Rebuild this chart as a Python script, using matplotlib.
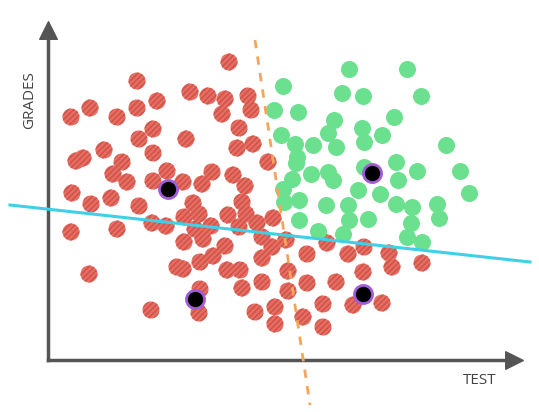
import matplotlib
matplotlib.use("Agg")
import matplotlib.pyplot as plt

red_x = [229,137,190,208,225,248,157,90,71,117,137,222,251,153,239,139,186,237,253,104,153,76,83,122,268,113,167,212,233,127,153,183,202,245,72,91,111,139,193,242,199,184,228,246,273,152,166,211,239,257,195,71,117,262,203,184,225,272,213,262,200,177,183,227,240,89,262,242,200,151,199,255,275,275,
         286,327,364,389,307,348,392,422,288,363,307,336,288,323,353,382,303,323]
red_y = [62,81,92,96,99,96,101,108,117,117,108,114,110,129,128,139,139,148,144,150,153,161,158,162,162,174,171,172,175,182,181,182,184,186,193,204,198,206,203,202,214,217,215,214,218,223,226,226,227,223,229,232,229,237,239,242,246,247,256,258,262,267,269,270,270,274,282,288,289,310,313,312,307,324,
         240,243,247,253,254,254,267,263,271,272,283,282,291,304,305,303,317,327]
green_x = [349,407,283,342,363,421,274,298,334,394,281,328,362,382,295,313,336,364,446,297,296,396,364,417,460,311,328,333,292,398,358,283,380,469,299,284,326,348,396,412,437,299,349,368,411,439,318,343,407,422]
green_y = [69,69,86,93,96,96,110,112,120,117,135,133,128,135,144,145,147,142,145,157,163,162,167,171,171,174,172,180,179,180,190,189,194,193,200,202,205,205,204,207,204,220,220,219,223,218,231,234,237,242]
black_x = [168,195,363,372]
black_y = [189,299,294,173]
cyan_x = [10,530]
cyan_y = [205,262]
orange_x = [255,310]
orange_y = [40,405]

fig = plt.figure(figsize=(5.39,4.12), dpi=100)
ax = fig.add_axes([0,0,1,1])
ax.set_xlim(0,539); ax.set_ylim(412,0); ax.axis('off')

plt.rcParams['hatch.linewidth'] = 1.2
ax.scatter(red_x, red_y, s=150, facecolor='#ec6d5f', edgecolor='#c9564f', linewidths=0, hatch='//////', zorder=2)
ax.scatter(green_x, green_y, s=150, color='#6be08e', linewidths=0, zorder=2)
ax.plot(orange_x, orange_y, color='#f5a55a', lw=2, ls=(0,(3,3)), zorder=3)
ax.plot(cyan_x, cyan_y, color='#3fd0e8', lw=2.2, zorder=3)
ax.scatter(black_x, black_y, s=170, color='black', edgecolor='#a35cd8', linewidths=2, zorder=4)

ax.plot([48,48],[360,36], color='#555555', lw=2.5, zorder=1)
ax.plot([48,508],[360,360], color='#555555', lw=2.5, zorder=1)
ax.scatter([48],[30], marker='^', s=160, color='#555555')
ax.scatter([514],[360], marker='>', s=160, color='#555555')
ax.text(30,100,'GRADES', rotation=90, ha='center', va='center', fontsize=11, color='#444444', family='Open Sans')
ax.text(480,381,'TEST', ha='center', va='center', fontsize=11, color='#444444', family='Open Sans')
fig.savefig('out.png', dpi=100)
